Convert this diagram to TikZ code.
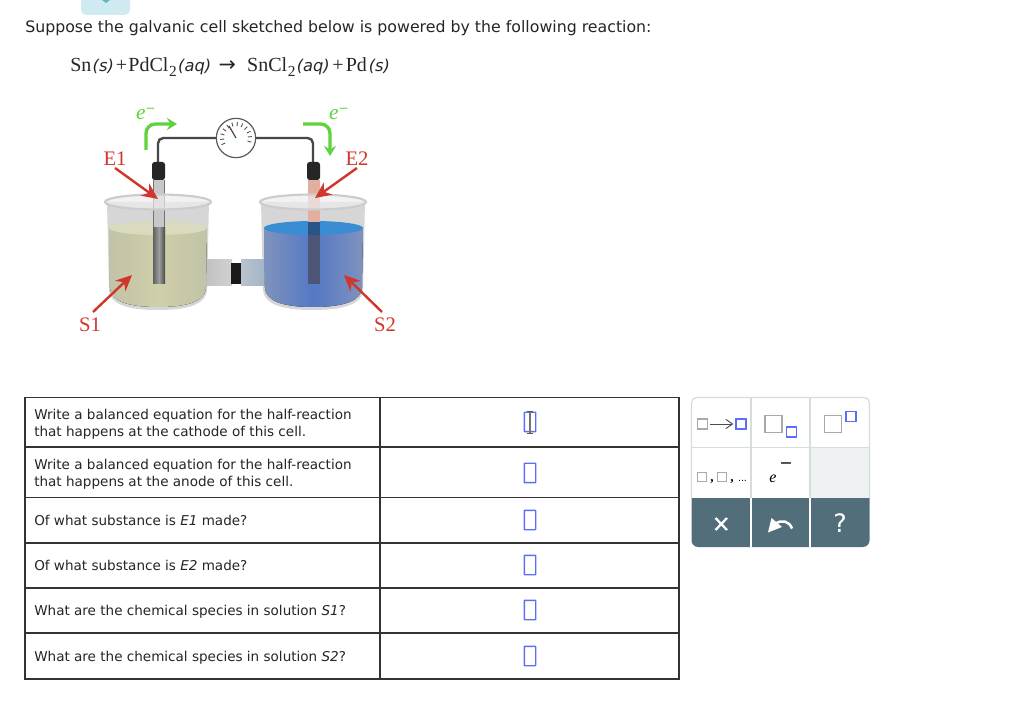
\documentclass[tikz,border=0pt]{standalone}
\usepackage{fontspec}
\setmainfont{DejaVu Sans}
\newfontfamily\serifface{Liberation Serif}
\usetikzlibrary{arrows.meta,calc}
\definecolor{tabblue}{HTML}{CFEAF1}
\definecolor{tabdark}{HTML}{5FB4D0}
\definecolor{sred}{HTML}{D2352B}
\definecolor{sgreen}{HTML}{5FD33C}
\definecolor{inkblue}{HTML}{5B6EF5}
\definecolor{palgrey}{HTML}{D5DCDE}
\definecolor{paldark}{HTML}{526E7A}
\definecolor{palfill}{HTML}{EFF2F3}
\definecolor{boxgrey}{HTML}{A9A9A9}
\definecolor{glassside}{HTML}{D6D6D6}
\definecolor{glasstop}{HTML}{EDEDED}
\definecolor{liqAedge}{HTML}{C2C2A8}
\definecolor{liqAmid}{HTML}{CFCFA9}
\definecolor{liqAtop}{HTML}{DADABF}
\definecolor{liqBedge}{HTML}{7F93BD}
\definecolor{liqBmid}{HTML}{5478C4}
\definecolor{liqBtop}{HTML}{3A8DD3}
\newcommand{\ital}[1]{{\rmfamily\fontsize{12.2}{14}\selectfont\itshape #1}}
\newcommand{\subtwo}{\raisebox{-3.5pt}{\fontsize{11.5}{12}\selectfont 2}}
\tikzset{
 x=0.75pt,y=-0.75pt,
 heading/.style={anchor=base west,inner sep=0pt,font=\fontsize{11.83}{14}\selectfont,text=black!85},
 formula/.style={anchor=base west,inner sep=0pt,font=\serifface\fontsize{15}{17}\selectfont,text=black!85},
 cellq/.style={anchor=west,inner sep=0pt,align=left,font=\fontsize{10.16}{12.6}\selectfont,text=black!85},
 redlabel/.style={inner sep=0pt,text=sred,font=\serifface\fontsize{15.5}{17}\selectfont},
 greenlabel/.style={inner sep=0pt,text=sgreen,font=\serifface\itshape\fontsize{16}{18}\selectfont},
 redarrow/.style={draw=sred,line width=1.8pt,-{Stealth[length=12pt,width=11pt]}},
 greenarrow/.style={draw=sgreen,line width=2.5pt,rounded corners=7pt,-{Stealth[length=7.5pt,width=9pt]}},
 answerbox/.style={draw=inkblue,line width=1.1pt,rounded corners=0.5pt,minimum width=8.6pt,minimum height=14.6pt,inner sep=0pt},
 tableline/.style={draw=black!80,line width=0.8pt},
 greybox/.style={draw=boxgrey,line width=1.1pt,inner sep=0pt},
 bluebox/.style={draw=inkblue,line width=1.1pt,inner sep=0pt},
 palsym/.style={inner sep=0pt,text=white},
}
\begin{document}
\begin{tikzpicture}
\useasboundingbox (0,0) rectangle (1024,712);
\fill[white] (0,0) rectangle (1024,712);
% top tab
\fill[tabblue,rounded corners=4pt] (81,-6) rectangle (130,15);
\fill[tabdark] (102,0) -- (110,0) -- (106,3) -- cycle;
% heading
\node[heading] (title) at (25,32.5) {Suppose the galvanic cell sketched below is powered by the following reaction:};
\node[formula] (eq) at (70,72) {Sn\hspace{1pt}\ital{(s)}\hspace{1.5pt}+\hspace{1pt}PdCl\hspace{.5pt}\subtwo\hspace{1pt}\ital{(aq)}\hspace{5.5pt}\raisebox{0.5pt}{\rmfamily\fontsize{15.5}{16}\selectfont →}\hspace{8.5pt}SnCl\hspace{.5pt}\subtwo\hspace{1pt}\ital{(aq)}\hspace{2pt}+\hspace{1.5pt}Pd\hspace{1.5pt}\ital{(s)}};
% glass bodies
\fill[glassside] (107,202) -- (109,290) .. controls (110,303) and (124,310) .. (158,310) .. controls (192,310) and (206,303) .. (207,290) -- (209,202) -- cycle;
\fill[glassside] (261,202) -- (263,290) .. controls (264,303) and (279,310) .. (313,310) .. controls (347,310) and (362,303) .. (363,290) -- (365,202) -- cycle;
% left liquid
\fill[left color=liqAedge,right color=liqAedge,middle color=liqAmid] (109,228) -- (110,288) .. controls (111,300) and (125,307) .. (158,307) .. controls (191,307) and (205,300) .. (206,288) -- (207,228) -- cycle;
\fill[liqAtop] (158,228) ellipse[x radius=49,y radius=7];
% salt bridge
\fill[left color=black!24,right color=black!18] (207,260) rectangle (232,286);
\fill[left color={rgb,255:red,185;green,195;blue,205},right color={rgb,255:red,165;green,180;blue,200}] (241,260) rectangle (265,286);
\fill[black!90] (231,263) rectangle (241,284);
% right liquid
\fill[left color=liqBedge,right color=liqBedge,middle color=liqBmid] (264,228) -- (265,288) .. controls (266,300) and (280,307) .. (313,307) .. controls (346,307) and (361,300) .. (362,288) -- (363,228) -- cycle;
\fill[liqBtop] (313.5,228) ellipse[x radius=49.5,y radius=7];
% electrodes
\fill[black!22] (153,180) rectangle (165,228);
\fill[black!55] (163.5,180) rectangle (165,228);
\fill[black!55] (153,180) rectangle (154,228);
\fill[left color=black!62,right color=black!72,middle color=black!38] (153,228) rectangle (165,284);
\fill[color={rgb,255:red,225;green,175;blue,160}] (308,180) rectangle (320,222);
\fill[color={rgb,255:red,40;green,85;blue,135}] (308,222) rectangle (320,235);
\fill[color={rgb,255:red,78;green,86;blue,120}] (308,235) rectangle (320,284);
% rims
\foreach \cx in {158,313}{
 \fill[glasstop,opacity=.7] (\cx,202) ellipse[x radius=53,y radius=7.5];
 \draw[black!20,line width=1.6pt] (\cx,202) ellipse[x radius=53,y radius=7.5];
}
% wire
\draw[black!72,line width=1.8pt,rounded corners=4pt] (158,165) -- (158,138) -- (313,138) -- (313,165);
\fill[black!85,rounded corners=2pt] (152,162) rectangle (165,180);
\fill[black!85,rounded corners=2pt] (307,162) rectangle (320,180);
% gauge
\node[circle,draw=black!65,fill=white,line width=.9pt,minimum size=29.5pt,inner sep=0pt] (gauge) at (236,138) {};
\foreach \a in {-115,-95,...,115}{
 \draw[black!65,line width=.7pt] ($(gauge)+(\a-90:16)$) -- ($(gauge)+(\a-90:12)$);
}
\draw[black!70,line width=.9pt] (gauge.center) -- ++(-7,-12);
\draw[sred!70!black,line width=.5pt] (gauge.center) ++(-4,-7) -- ++(-3,-5);
% green arrows
\coordinate (gl0) at (146,150);
\coordinate (gl1) at (146,124);
\coordinate (gl2) at (177,124);
\coordinate (gr0) at (303,124);
\coordinate (gr1) at (330,124);
\coordinate (gr2) at (330,156);
\draw[greenarrow] (gl0) -- (gl1) -- (gl2);
\draw[greenarrow] (gr0) -- (gr1) -- (gr2);
\node[greenlabel] (eleft) at (146,114) {e\raisebox{5pt}{\rmfamily\upshape\fontsize{9}{10}\selectfont −}};
\node[greenlabel] (eright) at (339,114) {e\raisebox{5pt}{\rmfamily\upshape\fontsize{9}{10}\selectfont −}};
% red labels & arrows
\node[redlabel] (E1) at (115,159) {E1};
\node[redlabel] (E2) at (357,159) {E2};
\node[redlabel] (S1) at (90,325) {S1};
\node[redlabel] (S2) at (385,325) {S2};
\coordinate (tE1) at (158,199);
\coordinate (tE2) at (315,198);
\coordinate (tS1) at (132,275);
\coordinate (tS2) at (344,275);
\draw[redarrow] (E1) ++(0,9) -- (tE1);
\draw[redarrow] (E2) ++(0,9) -- (tE2);
\draw[redarrow] (S1) ++(3,-13) -- (tS1);
\draw[redarrow] (S2) ++(-3,-13) -- (tS2);
% table
\draw[tableline] (25,397.5) rectangle (679,679);
\draw[tableline] (380,397.5) -- (380,679);
\foreach \y in {447,497.5,543,588,633}{\draw[tableline] (25,\y) -- (679,\y);}
\node[cellq] (q1) at (34,424) {Write a balanced equation for the half-reaction\\that happens at the cathode of this cell.};
\node[cellq] (q2) at (34,474) {Write a balanced equation for the half-reaction\\that happens at the anode of this cell.};
\node[cellq] (q3) at (34,520.5) {Of what substance is \textit{E1} made?};
\node[cellq] (q4) at (34,565.5) {Of what substance is \textit{E2} made?};
\node[cellq] (q5) at (34,611.5) {What are the chemical species in solution \textit{S1}?};
\node[cellq] (q6) at (34,657.5) {What are the chemical species in solution \textit{S2}?};
\node[answerbox] (a1) at (530,422) {};
\node[answerbox] (a2) at (530,473) {};
\node[answerbox] (a3) at (530,520) {};
\node[answerbox] (a4) at (530,565) {};
\node[answerbox] (a5) at (530,610) {};
\node[answerbox] (a6) at (530,656) {};
% text cursor
\draw[black!55,line width=1.1pt] (530,412) -- (530,433);
\draw[black!65,line width=.6pt] (527,411) -- (533,411) (527,433.5) -- (533,433.5);
% palette
\fill[palfill] (810,447) rectangle (869,498);
\fill[paldark,rounded corners=5pt] (691.5,490) rectangle (869.5,547);
\fill[white] (691,490) rectangle (810,498);
\fill[palfill] (810,490) rectangle (870,498);
\draw[palgrey,line width=.9pt,rounded corners=4pt] (691.5,498) -- (691.5,397.5) -- (869.5,397.5) -- (869.5,498);
\draw[palgrey,line width=.9pt] (691.5,447.5) -- (869.5,447.5) (751,397.5) -- (751,498) (810,397.5) -- (810,498);
\draw[white,line width=.9pt] (751,498) -- (751,547) (810,498) -- (810,547);
% palette symbols
\node[greybox,minimum size=7.5pt] (p1) at (702.5,424) {};
\node[bluebox,minimum size=7.5pt] (p1b) at (741,424) {};
\draw[black!70,line width=.7pt,-{Straight Barb[length=5pt,width=7pt]},shorten <=1.5pt,shorten >=1.5pt] (p1) -- (p1b);
\node[greybox,minimum size=12.5pt] (p2) at (773.5,424) {};
\node[bluebox,minimum size=7.5pt] (p2b) at (791.5,432) {};
\node[greybox,minimum size=12.5pt] (p3) at (833,424) {};
\node[bluebox,minimum size=7.5pt] (p3b) at (851,416.5) {};
\node[greybox,minimum size=7pt] (p4) at (702,477) {};
\node[greybox,minimum size=7pt] (p5) at (722,477) {};
\node[inner sep=0pt,font=\serifface\bfseries\fontsize{10}{10}\selectfont,anchor=base] (c1) at (712,482) {,};
\node[inner sep=0pt,font=\serifface\bfseries\fontsize{10}{10}\selectfont,anchor=base] (c2) at (732,482) {,};
\node[inner sep=0pt,font=\fontsize{7}{8}\selectfont,anchor=base] (c3) at (742.5,481) {...};
\node[inner sep=0pt,font=\serifface\itshape\fontsize{12}{12}\selectfont,anchor=base] (p6) at (773,483) {e};
\node[inner sep=0pt,font=\fontsize{12}{12}\selectfont,anchor=center] (p6m) at (786,466) {−};
\draw[white,line width=1.7pt] (715.5,518) -- (727,530) (727,518) -- (715.5,530);
\node[palsym,font=\fontsize{19}{19}\selectfont] (help) at (840,523) {?};
\fill[white] (768,532.5) -- (771.5,518) -- (782,527) -- cycle;
\draw[white,line width=1.9pt] (775,524) .. controls (782,519) and (789,521) .. (792,528.5);
\end{tikzpicture}
\end{document}
